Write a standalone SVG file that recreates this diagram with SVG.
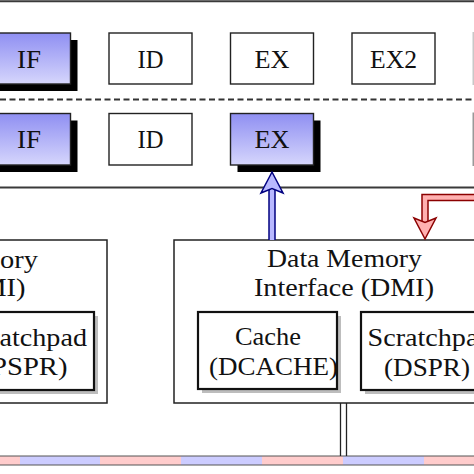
<svg xmlns="http://www.w3.org/2000/svg" width="474" height="474" viewBox="0 0 474 474">
<defs>
<linearGradient id="hl" x1="0" y1="0" x2="0" y2="1">
<stop offset="0" stop-color="#8f8ff2"/>
<stop offset="1" stop-color="#d6d6fc"/>
</linearGradient>
<style>
text{font-family:"Liberation Serif","DejaVu Serif",serif;font-size:25px;fill:#111;text-anchor:middle}
.st{fill:#fff;stroke:#222;stroke-width:1.4}
.hl{fill:url(#hl);stroke:#222;stroke-width:1.4}
.sh{fill:#000}
.mi{fill:#fff;stroke:#222;stroke-width:1.5}
.in{fill:#fff;stroke:#111;stroke-width:2.2}
.ish{fill:#bdbdbd}
.rule{stroke:#3a3a3a;stroke-width:2;fill:none}
</style>
</defs>
<rect width="474" height="474" fill="#fff"/>
<line class="rule" x1="0" y1="1.3" x2="474" y2="1.3" stroke-width="2.6"/>
<line class="rule" x1="0" y1="187.5" x2="474" y2="187.5"/>
<line x1="0" y1="99.5" x2="474" y2="99.5" stroke="#333" stroke-width="1.8" stroke-dasharray="6,3.5"/>

<g id="row1-IF"><rect class="sh" x="-5.5" y="40" width="83" height="51"/><rect class="hl" x="-12.5" y="33" width="83" height="51"/><text x="29" y="68" textLength="24" lengthAdjust="spacingAndGlyphs">IF</text></g>
<g id="row1-ID"><rect class="st" x="109" y="33" width="83" height="51"/><text x="150.5" y="68" textLength="26" lengthAdjust="spacingAndGlyphs">ID</text></g>
<g id="row1-EX"><rect class="st" x="230.5" y="33" width="83" height="51"/><text x="272" y="68" textLength="35" lengthAdjust="spacingAndGlyphs">EX</text></g>
<g id="row1-EX2"><rect class="st" x="352" y="33" width="83" height="51"/><text x="393.5" y="68" textLength="47" lengthAdjust="spacingAndGlyphs">EX2</text></g>
<g id="row1-next"><rect x="473.5" y="33" width="83" height="51" fill="#fff" stroke="#c8c8c8" stroke-width="2"/></g>

<g id="row2-IF"><rect class="sh" x="-5.5" y="120.5" width="83" height="51.5"/><rect class="hl" x="-12.5" y="113.5" width="83" height="51.5"/><text x="29" y="148" textLength="24" lengthAdjust="spacingAndGlyphs">IF</text></g>
<g id="row2-ID"><rect class="st" x="109" y="113.5" width="83" height="51.5"/><text x="150.5" y="148" textLength="26" lengthAdjust="spacingAndGlyphs">ID</text></g>
<g id="row2-EX"><rect class="sh" x="237.5" y="120.5" width="83" height="51.5"/><rect class="hl" x="230.5" y="113.5" width="83" height="51.5"/><text x="272" y="148" textLength="35" lengthAdjust="spacingAndGlyphs">EX</text></g>
<g id="row2-next"><rect x="473.5" y="113.5" width="83" height="51.5" fill="#fff" stroke="#999" stroke-width="2"/></g>

<g id="PMI"><rect class="mi" x="-234" y="240" width="341" height="163"/>
<text x="-63.5" y="268" textLength="203" lengthAdjust="spacingAndGlyphs">Program Memory</text>
<text x="-63.5" y="296" textLength="178" lengthAdjust="spacingAndGlyphs">Interface (PMI)</text></g>
<g id="PSPR"><rect class="ish" x="-41" y="316" width="139" height="78"/><rect class="in" x="-45" y="312" width="139" height="78"/>
<text x="24.5" y="346" textLength="125" lengthAdjust="spacingAndGlyphs">Scratchpad</text>
<text x="24.5" y="375" textLength="86" lengthAdjust="spacingAndGlyphs">(PSPR)</text></g>

<g id="DMI"><rect class="mi" x="174" y="240" width="341" height="163"/>
<text x="344.5" y="267" textLength="155" lengthAdjust="spacingAndGlyphs">Data Memory</text>
<text x="344" y="296" textLength="180" lengthAdjust="spacingAndGlyphs">Interface (DMI)</text></g>
<g id="DCACHE"><rect class="ish" x="202" y="316" width="139" height="77"/><rect class="in" x="198" y="312" width="139" height="77"/>
<text x="268" y="345" textLength="66" lengthAdjust="spacingAndGlyphs">Cache</text>
<text x="273.5" y="375" textLength="129" lengthAdjust="spacingAndGlyphs">(DCACHE)</text></g>
<g id="DSPR"><rect class="ish" x="365" y="316" width="139" height="78"/><rect class="in" x="361" y="312" width="139" height="78"/>
<text x="430" y="346" textLength="125" lengthAdjust="spacingAndGlyphs">Scratchpad</text>
<text x="427" y="376" textLength="86" lengthAdjust="spacingAndGlyphs">(DSPR)</text></g>

<g id="bus">
<rect x="0" y="456" width="20" height="9" fill="#ffcccc"/>
<rect x="20" y="456" width="80" height="9" fill="#ccccff"/>
<rect x="100" y="456" width="81" height="9" fill="#ffcccc"/>
<rect x="181" y="456" width="81" height="9" fill="#ccccff"/>
<rect x="262" y="456" width="81" height="9" fill="#ffcccc"/>
<rect x="343" y="456" width="81" height="9" fill="#ccccff"/>
<rect x="424" y="456" width="50" height="9" fill="#ffcccc"/>
<line x1="0" y1="456" x2="474" y2="456" stroke="#555" stroke-width="1"/>
<line x1="0" y1="465" x2="474" y2="465" stroke="#555" stroke-width="1"/>
</g>

<g id="connectors">
<line x1="340.5" y1="403" x2="340.5" y2="456" stroke="#222" stroke-width="1.3"/>
<line x1="346.5" y1="403" x2="346.5" y2="456" stroke="#222" stroke-width="1.3"/>
<path d="M272,240 V190" stroke="#000080" stroke-width="7.5" fill="none"/>
<path d="M272,240 V190" stroke="#b8b8ff" stroke-width="4.5" fill="none"/>
<path d="M272,172 L283,193 L272,188.5 L261,193 Z" fill="#b8b8ff" stroke="#000080" stroke-width="1.5" stroke-linejoin="miter"/>
<path d="M480,197.5 H425 V222" stroke="#8b0000" stroke-width="7.5" fill="none" stroke-linejoin="miter"/>
<path d="M480,197.5 H425 V222" stroke="#ffb0b0" stroke-width="4.5" fill="none" stroke-linejoin="miter"/>
<path d="M425,239 L436,218 L425,222.5 L414,218 Z" fill="#ffb0b0" stroke="#8b0000" stroke-width="1.5" stroke-linejoin="miter"/>
</g>
</svg>
